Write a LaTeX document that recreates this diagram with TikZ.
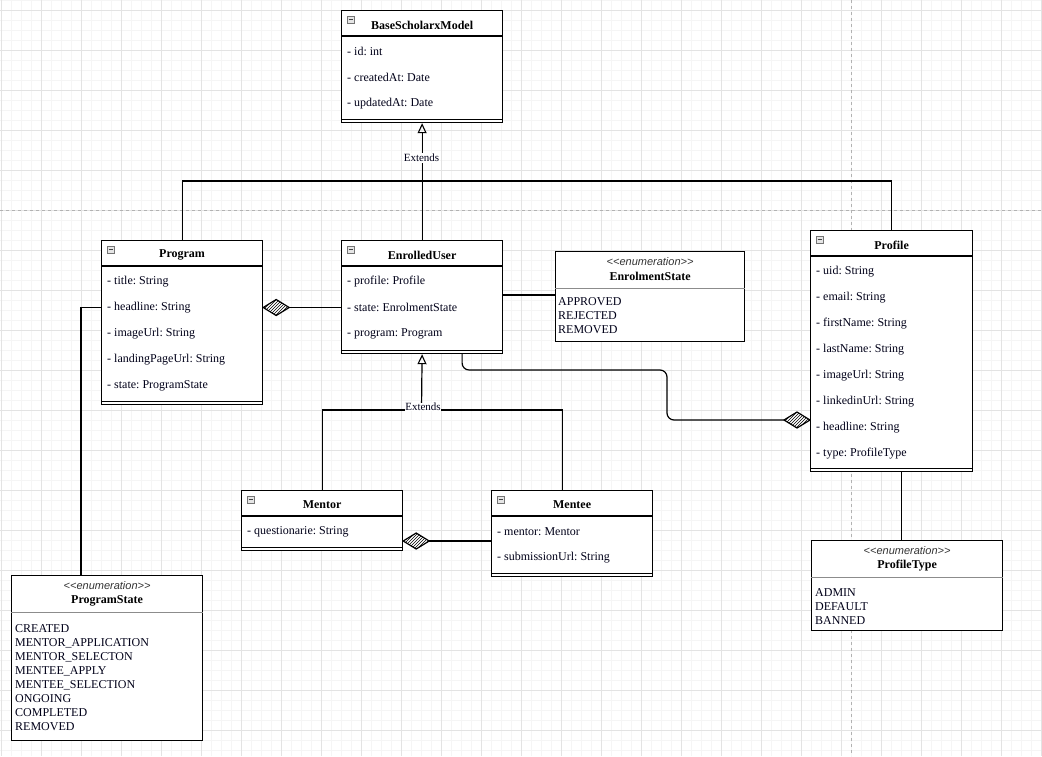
\documentclass[tikz,border=0pt]{standalone}
\usepackage{fontspec}
\setmainfont{Liberation Serif}
\newfontfamily\stereofont{Liberation Sans}
\usetikzlibrary{arrows.meta,patterns,calc}
\frenchspacing

\tikzset{
  box/.style={draw=black, line width=1.2pt, fill=white, inner sep=0pt, rectangle},
  boxline/.style={draw=black, line width=1.1pt},
  sepline/.style={draw=black!45, line width=0.6pt},
  ttl/.style={font=\fontsize{12}{14}\selectfont\bfseries, text=black, inner sep=0pt},
  attr/.style={font=\fontsize{12}{14}\selectfont, anchor=west, inner sep=0pt, text=black!90!blue},
  stereo/.style={font=\stereofont\itshape\fontsize{11}{13}\selectfont, text=black!80, inner sep=0pt},
  icon/.style={draw=black!55, fill=black!10, line width=0.6pt, minimum width=7pt, minimum height=7pt, inner sep=0pt},
  conn/.style={draw=black, line width=1.2pt},
  lbl/.style={font=\fontsize{11}{13}\selectfont, fill=white, inner sep=0.8pt, text=black!90!blue},
  minorgrid/.style={draw=black!4, line width=0.5pt},
  majorgrid/.style={draw=black!11, line width=0.6pt},
  pagebreak/.style={draw=black!30, line width=0.6pt, dash pattern=on 3pt off 3pt},
  inh/.style={conn, -{Triangle[open, length=10pt, width=9pt, line width=1.1pt]}}
}

\newcommand\umlclass[6]{%
  \node[box, minimum width=#4pt, minimum height=#5pt, anchor=north west] (#1) at (#2,#3) {};
  \draw[boxline] ([yshift=-26pt]#1.north west) -- ([yshift=-26pt]#1.north east);
  \draw[boxline] ([yshift=4pt]#1.south west) -- ([yshift=4pt]#1.south east);
  \node[icon] (#1-icon) at ([xshift=9.5pt,yshift=-9.5pt]#1.north west) {};
  \draw[black!75, line width=0.8pt] ([xshift=-2pt]#1-icon.center) -- ([xshift=2pt]#1-icon.center);
  \node[ttl] (#1-title) at ([yshift=-15pt]#1.north) {#6};
}
\newcommand\umlenum[6]{%
  \node[box, minimum width=#4pt, minimum height=#5pt, anchor=north west] (#1) at (#2,#3) {};
  \node[stereo] (#1-stereo) at ([yshift=-11pt]#1.north) {<<enumeration>>};
  \node[ttl] (#1-title) at ([yshift=-25.5pt]#1.north) {#6};
  \draw[sepline] ([yshift=-37.5pt]#1.north west) -- ([yshift=-37.5pt]#1.north east);
}
\newcommand\hatchdiamond[2]{%
  \begin{scope}[shift={(#1)}, xscale=#2]
    \fill[white] (0,0) -- (13,-8) -- (26,0) -- (13,8) -- cycle;
    \fill[pattern=north east lines, pattern color=black] (0,0) -- (13,-8) -- (26,0) -- (13,8) -- cycle;
    \draw[line width=1.2pt, line join=round] (0,0) -- (13,-8) -- (26,0) -- (13,8) -- cycle;
  \end{scope}
}

\begin{document}
\begin{tikzpicture}[x=1pt, y=-1pt]
\useasboundingbox (0,0) rectangle (1042,756);
% background grid
\fill[white] (0,0) rectangle (1042,756);
\begin{scope}
  \clip (0,0) rectangle (1042,756);
  \foreach \gx in {1.7,11.7,...,1045} \draw[minorgrid] (\gx,0) -- (\gx,756);
  \foreach \gy in {0,10,...,760} \draw[minorgrid] (0,\gy) -- (1042,\gy);
  \foreach \gx in {1.7,41.7,...,1045} \draw[majorgrid] (\gx,0) -- (\gx,756);
  \foreach \gy in {10,50,...,760} \draw[majorgrid] (0,\gy) -- (1042,\gy);
  \draw[pagebreak] (0,210) -- (1042,210);
  \draw[pagebreak] (851.5,0) -- (851.5,756);
\end{scope}

% classes
\umlclass{base}{341}{10}{161}{112}{BaseScholarxModel}
\foreach \t [count=\i] in {- id: int, - createdAt: Date, - updatedAt: Date}
  \node[attr] (base-a\i) at (347, 25.5+26*\i) {\t};

\umlclass{prog}{101}{240}{161}{164}{Program}
\foreach \t [count=\i] in {- title: String, - headline: String, - imageUrl: String, - landingPageUrl: String, - state: ProgramState}
  \node[attr] (prog-a\i) at (107, 255.5+26*\i) {\t};

\umlclass{eu}{341}{240}{161}{113}{EnrolledUser}
\foreach \t [count=\i] in {- profile: Profile, - state: EnrolmentState, - program: Program}
  \node[attr] (eu-a\i) at (347, 255.5+26*\i) {\t};

\umlclass{prof}{810}{230}{162}{241}{Profile}
\foreach \t [count=\i] in {- uid: String, - email: String, - firstName: String, - lastName: String, - imageUrl: String, - linkedinUrl: String, - headline: String, - type: ProfileType}
  \node[attr] (prof-a\i) at (816, 245.5+26*\i) {\t};

\umlclass{mentor}{241}{490}{161}{60}{Mentor}
\node[attr] (mentor-a1) at (247, 531.5) {- questionarie: String};

\umlclass{mentee}{491}{490}{161}{86}{Mentee}
\foreach \t [count=\i] in {- mentor: Mentor, - submissionUrl: String}
  \node[attr] (mentee-a\i) at (497, 505.5+26*\i) {\t};

% enumerations
\umlenum{es}{555}{251}{189}{90}{EnrolmentState}
\foreach \t [count=\i] in {APPROVED, REJECTED, REMOVED}
  \node[attr] (es-v\i) at (558, 288+14*\i) {\t};

\umlenum{ps}{11}{575}{191}{165}{ProgramState}
\foreach \t [count=\i] in {CREATED, MENTOR\_APPLICATION, MENTOR\_SELECTON, MENTEE\_APPLY, MENTEE\_SELECTION, ONGOING, COMPLETED, REMOVED}
  \node[attr] (ps-v\i) at (15, 615+14*\i) {\t};

\umlenum{pt}{811}{540}{191}{90}{ProfileType}
\foreach \t [count=\i] in {ADMIN, DEFAULT, BANNED}
  \node[attr] (pt-v\i) at (815, 579+14*\i) {\t};

% connectors
\coordinate (ext1) at (421.5,181);
\draw[conn] (prog.north) |- (ext1) -| (prof.north);
\draw[inh] (eu.north) -- (base.south);
\node[lbl] (ext1-l) at (421.5,158) {Extends};

\coordinate (ext2) at (421.5,410);
\draw[conn] (mentor.north) |- (ext2) -| ([xshift=-10pt]mentee.north);
\draw[inh] (ext2) -- (eu.south);
\node[lbl, inner sep=0.3pt] (ext2-l) at (423,407) {Extends};

% Program <-> EnrolledUser
\coordinate (pd) at (prog.east |- prog-a2);
\draw[conn] (eu.west |- prog-a2) -- ($(pd)+(26,0)$);
\hatchdiamond{pd}{1}

% EnrolledUser -- EnrolmentState
\coordinate (y295) at (0,295);
\draw[conn] (eu.east |- y295) -- (es.west |- y295);

% EnrolledUser -> Profile
\coordinate (c1) at (667,370);
\coordinate (y420) at (0,420);
\coordinate (pfd) at (prof.west |- y420);
\draw[conn, rounded corners=7pt] ([xshift=40pt]eu.south) |- (c1) |- ($(pfd)+(-26,0)$);
\hatchdiamond{pfd}{-1}

% Mentee -> Mentor
\coordinate (y541) at (0,541);
\coordinate (md) at (mentor.east |- y541);
\draw[conn] (mentee.west |- y541) -- ($(md)+(26,0)$);
\hatchdiamond{md}{1}

% Program -- ProgramState
\coordinate (c3) at (81,306);
\draw[conn] (prog.west |- prog-a2) -| (c3 |- ps.north);

% Profile -- ProfileType
\draw[conn] ([xshift=10pt]prof.south) -- ([xshift=10pt]prof.south |- pt.north);
\end{tikzpicture}
\end{document}
